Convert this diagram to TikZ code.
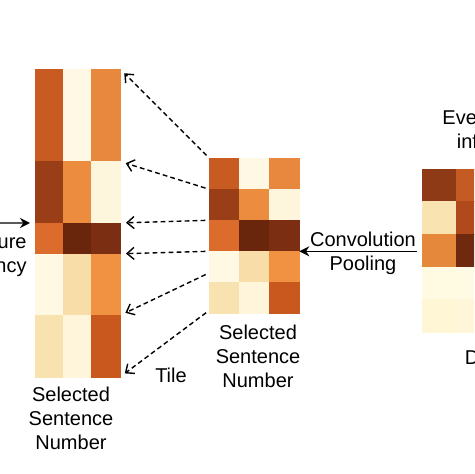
\documentclass[tikz,border=0pt]{standalone}
\usepackage{fontspec}
\setmainfont{Liberation Sans}
\usetikzlibrary{positioning,arrows.meta,calc}

% heat map colours (row, column)
\definecolor{hm11}{HTML}{C75B22}
\definecolor{hm12}{HTML}{FFF8E4}
\definecolor{hm13}{HTML}{E8873E}
\definecolor{hm21}{HTML}{9A3E17}
\definecolor{hm22}{HTML}{EC8C3E}
\definecolor{hm23}{HTML}{FEF6DC}
\definecolor{hm31}{HTML}{DC6C2B}
\definecolor{hm32}{HTML}{6A260D}
\definecolor{hm33}{HTML}{7B2E11}
\definecolor{hm41}{HTML}{FFF9E3}
\definecolor{hm42}{HTML}{F8DDA9}
\definecolor{hm43}{HTML}{F19242}
\definecolor{hm51}{HTML}{F8E2B0}
\definecolor{hm52}{HTML}{FEF5DA}
\definecolor{hm53}{HTML}{C9581F}
\definecolor{ev11}{HTML}{8F3A17}
\definecolor{ev12}{HTML}{C45A24}
\definecolor{ev21}{HTML}{F9E3B0}
\definecolor{ev22}{HTML}{B04A1C}
\definecolor{ev31}{HTML}{E6883C}
\definecolor{ev32}{HTML}{6E290E}
\definecolor{ev41}{HTML}{FFFAE2}
\definecolor{ev42}{HTML}{FFFAE4}
\definecolor{ev51}{HTML}{FFF6D6}
\definecolor{ev52}{HTML}{FFF6DA}

\begin{document}
\begin{tikzpicture}[
			x=0.5pt, y=-0.5pt,
			cell/.style={
				rectangle, fill=#1, draw=#1, line width=0.2pt,
				inner sep=0pt, outer sep=0pt
			},
			lbl/.style={
				font=\fontsize{10}{12}\selectfont, align=center, inner sep=0pt
			},
			arr/.style={-{Stealth[length=5pt,width=5pt]}, line width=0.7pt},
			tilearr/.style={
				-{Straight Barb[length=3.5pt,width=6pt]}, line width=0.7pt,
				dash pattern=on 2.4pt off 1.6pt, shorten <=2pt, shorten >=3pt
			}
			]
			
			\useasboundingbox (0,0) rectangle (474,474);
			\clip (0,0) rectangle (474,474);
			
			%==================== tiled matrix ====================
			\foreach \r/\yc/\h in {1/115.2/46.2pt, 2/192.2/30.8pt, 3/238.4/15.4pt, 4/284.6/30.8pt, 5/346.2/30.8pt}
			\foreach \c/\xc in {1/49.17, 2/77.5, 3/105.83}
			\node[cell=hm\r\c, minimum width=14.17pt, minimum height=\h] (t\r-\c) at (\xc,\yc) {};
			
			\node[lbl, anchor=north] (tlbl) at (71,387) {Selected\\Sentence\\Number};
			
			%==================== selected sentences ====================
			\foreach \r/\yc in {1/173.8, 2/204.8, 3/235.8, 4/266.8, 5/297.8}
			\foreach \c/\xc in {1/224.3, 2/254.3, 3/284.3}
			\node[cell=hm\r\c, minimum width=15pt, minimum height=15.5pt] (m\r-\c) at (\xc,\yc) {};
			
			\node[lbl, anchor=north] (mlbl) at (258,325) {Selected\\Sentence\\Number};
			
			%==================== events ====================
			\foreach \r/\yc in {1/185.3, 2/218, 3/250.6, 4/283.3, 5/316}
			\foreach \c/\xc in {1/438.7, 2/472.7}
			\node[cell=ev\r\c, minimum width=17pt, minimum height=16.33pt] (e\r-\c) at (\xc,\yc) {};
			
			\node[lbl, anchor=north] (elbl) at (473,110) {Events\\info};
			\node[lbl, anchor=north] (dlbl) at (510.5,350) {Document};
			
			%==================== connectors ====================
			\draw[tilearr] (m1-1.north west) -- (t1-3.north east);
			\draw[tilearr] (m2-1.north west) -- (t2-3.north east);
			\draw[tilearr] (m3-1.north west) -- (t3-3.north east);
			\draw[tilearr] (m4-1.north west) -- (t4-3.north east);
			\draw[tilearr] ([yshift=-3pt]m4-1.west) -- (t5-3.north east);
			\draw[tilearr] ([yshift=1.5pt]m5-1.south west) -- (t5-3.south east);
			\node[lbl, anchor=north] (tile) at (171,368) {Tile};
			
			\draw[arr, shorten <=2.5pt] (e3-1.west |- m3-3.south east) --
			node[lbl, above, inner sep=2pt, pos=0.48] (conv) {Convolution}
			node[lbl, below, inner sep=2pt, pos=0.48] (pool) {Pooling}
			(m3-3.south east);
			
			\coordinate (src) at (0,223);
			\draw[arr, shorten >=2.5pt] (src) -- (t2-1.south west);
			\node[lbl, align=right, anchor=north east] (flbl) at (27,234) {Feature\\Frequency};
			
		\end{tikzpicture}
\end{document}
